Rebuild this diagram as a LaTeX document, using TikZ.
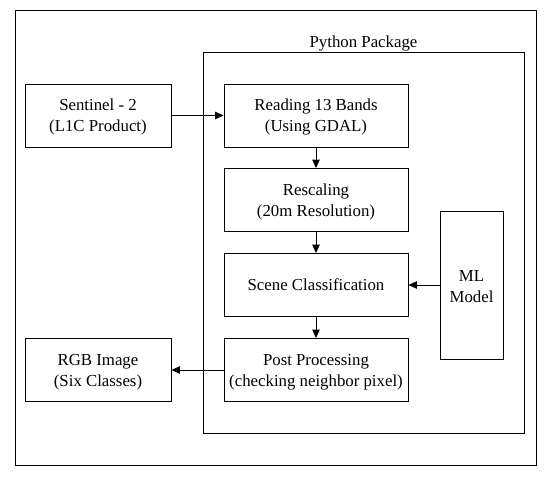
\documentclass[tikz,border=0pt]{standalone}
\usepackage{fontspec}
\setmainfont{Liberation Serif}
\usetikzlibrary{arrows.meta}
\begin{document}
\begin{tikzpicture}[x=1pt,y=-1pt,
  box/.style={draw,line width=0.9pt,inner sep=0pt,align=center,font=\fontsize{16.8}{21}\selectfont},
  conn/.style={line width=0.9pt,-{Triangle[length=8.5pt,width=7.5pt]}},
  frame/.style={draw,line width=0.9pt}]
\useasboundingbox (0,0) rectangle (550,479);
\draw[frame] (15,10) rectangle (536,465);
\draw[frame] (203,52) rectangle (524,433);
\node[font=\fontsize{16.8}{21}\selectfont,anchor=base] (title) at (363.5,47) {Python Package};
\node[box,minimum width=146pt,minimum height=63pt] (sen) at (98,115.5) {\rule{0pt}{15pt}Sentinel - 2\\(L1C Product)};
\node[box,minimum width=184pt,minimum height=63pt] (read) at (316,115.5) {\rule{0pt}{15pt}Reading 13 Bands\\(Using GDAL)};
\node[box,minimum width=184pt,minimum height=63pt] (resc) at (316,200) {\rule{0pt}{15pt}Rescaling\\(20m Resolution)};
\node[box,minimum width=184pt,minimum height=63pt] (scene) at (316,285) {Scene Classification};
\node[box,minimum width=184pt,minimum height=63pt] (post) at (316,370) {\rule{0pt}{15pt}Post Processing\\(checking neighbor pixel)};
\node[box,minimum width=146pt,minimum height=63pt] (rgb) at (98,370) {\rule{0pt}{15pt}RGB Image\\(Six Classes)};
\node[box,minimum width=63pt,minimum height=148pt] (ml) at (471.5,285) {\rule{0pt}{15pt}ML\\Model};
\draw[conn] (sen) -- (read);
\draw[conn] (read) -- (resc);
\draw[conn] (resc) -- (scene);
\draw[conn] (scene) -- (post);
\draw[conn] (ml) -- (scene);
\draw[conn] (post) -- (rgb);
\end{tikzpicture}
\end{document}
